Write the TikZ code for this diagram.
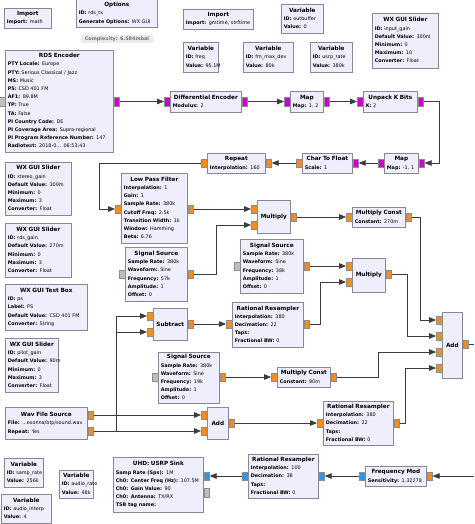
\documentclass[tikz,border=0pt]{standalone}
\usepackage{fontspec}
\setmainfont{DejaVu Sans}
\usetikzlibrary{arrows.meta}
\definecolor{grcfill}{RGB}{238,238,252}
\definecolor{grcedge}{RGB}{135,135,150}
\definecolor{portfloat}{RGB}{245,140,30}
\definecolor{portbyte}{RGB}{204,0,204}
\definecolor{portcplx}{RGB}{50,150,230}
\definecolor{portmsg}{RGB}{190,190,190}
\definecolor{wirecol}{RGB}{60,60,60}
\newcommand{\ttlfont}{\fontsize{5.7}{8.2}\selectfont\bfseries}
\newcommand{\prmfont}{\fontsize{4.9}{8.2}\selectfont}
\newcommand{\ttl}[1]{\hskip0pt plus1filll\mbox{\ttlfont\rule{0pt}{4.4pt}#1}\hskip0pt plus1filll\null}
\newcommand{\kv}[2]{\mbox{\rule[-1.3pt]{0pt}{1pt}\textbf{#1:} #2}}
\tikzset{
  grcblock/.style 2 args={rectangle, draw=grcedge, fill=grcfill, line width=0.7pt,
                          anchor=north west, minimum width=#1pt, minimum height=#2pt,
                          text width=#1pt-5pt, inner xsep=2.5pt, inner ysep=0pt,
                          align=left, font=\prmfont},
  gport/.style={rectangle, draw=black!45, line width=0.4pt, minimum width=5.5pt,
                minimum height=8.5pt, inner sep=0pt},
  pf/.style={gport, fill=portfloat},
  pb/.style={gport, fill=portbyte},
  pc/.style={gport, fill=portcplx},
  pm/.style={gport, fill=portmsg},
  lside/.style={anchor=east},
  rside/.style={anchor=west},
  wire/.style ={draw=wirecol, line width=0.7pt, -{Triangle[length=7pt,width=5.5pt]}},
  wirefree/.style={draw=wirecol, line width=0.7pt},
  cplxlbl/.style={fill=black!8, text=black!55, font=\prmfont\bfseries,
                  inner xsep=4pt, inner ysep=2pt},
}
\begin{document}
\begin{tikzpicture}[x=1pt, y=-1pt]
  \useasboundingbox (0,0) rectangle (474,524);
  \node[grcblock={47}{20}] (imp1) at (4,8) {\ttl{Import}\\\kv{Import}{math}};
  \node[grcblock={81}{28}] (opts) at (76,-1) {\ttl{Options}\\\kv{ID}{rds\_tx}\\\kv{Generate Options}{WX GUI}};
  \node[cplxlbl] (cplx) at (117,39) {Complexity: 6.584mbal};
  \node[grcblock={70}{20}] (imp2) at (183,9) {\ttl{Import}\\\kv{Import}{gmtime, strftime}};
  \node[grcblock={42}{29}] (vbuf) at (281,4) {\ttl{Variable}\\\kv{ID}{outbuffer}\\\kv{Value}{0}};
  \node[grcblock={66}{55}] (sgain) at (372,13) {\ttl{WX GUI Slider}\\\kv{ID}{input\_gain}\\\kv{Default Value}{300m}\\\kv{Minimum}{0}\\\kv{Maximum}{10}\\\kv{Converter}{Float}};
  \node[grcblock={35}{30}] (vfreq) at (183,42) {\ttl{Variable}\\\kv{ID}{freq}\\\kv{Value}{95.1M}};
  \node[grcblock={50}{30}] (vdev) at (243,42) {\ttl{Variable}\\\kv{ID}{fm\_max\_dev}\\\kv{Value}{80k}};
  \node[grcblock={42}{30}] (vusrp) at (310,42) {\ttl{Variable}\\\kv{ID}{usrp\_rate}\\\kv{Value}{380k}};
  \node[grcblock={108}{102}] (rds) at (5,50) {\ttl{RDS Encoder}\\\kv{PTY Locale}{Europe}\\\kv{PTY}{Serious Classical / Jazz}\\\kv{MS}{Music}\\\kv{PS}{CSD 401 FM}\\\kv{AF1}{89.8M}\\\kv{TP}{True}\\\kv{TA}{False}\\\kv{PI Country Code}{DE}\\\kv{PI Coverage Area}{Supra-regional}\\\kv{PI Program Reference Number}{147}\\\kv{Radiotext}{2018-0... 06:53:43}};
  \node[grcblock={71}{21}] (diff) at (170,91) {\ttl{Differential Encoder}\\\kv{Modulus}{2}};
  \node[grcblock={33}{21}] (map1) at (290,91) {\ttl{Map}\\\kv{Map}{1, 2}};
  \node[grcblock={54}{21}] (unpk) at (363,91) {\ttl{Unpack K Bits}\\\kv{K}{2}};
  \node[grcblock={34}{20}] (map2) at (384,153) {\ttl{Map}\\\kv{Map}{-1, 1}};
  \node[grcblock={50}{20}] (c2f) at (302,153) {\ttl{Char To Float}\\\kv{Scale}{1}};
  \node[grcblock={58}{20}] (rpt) at (207,153) {\ttl{Repeat}\\\kv{Interpolation}{160}};
  \node[grcblock={66}{53}] (sstereo) at (5,162) {\ttl{WX GUI Slider}\\\kv{ID}{stereo\_gain}\\\kv{Default Value}{300m}\\\kv{Minimum}{0}\\\kv{Maximum}{3}\\\kv{Converter}{Float}};
  \node[grcblock={66}{70}] (lpf) at (121,173) {\ttl{Low Pass Filter}\\\kv{Interpolation}{1}\\\kv{Gain}{1}\\\kv{Sample Rate}{380k}\\\kv{Cutoff Freq}{2.5k}\\\kv{Transition Width}{1k}\\\kv{Window}{Hamming}\\\kv{Beta}{6.76}};
  \node[grcblock={33}{33}] (mul1) at (257,200) {\ttl{Multiply}};
  \node[grcblock={53}{20}] (mc1) at (352,207) {\ttl{Multiply Const}\\\kv{Constant}{270m}};
  \node[grcblock={66}{54}] (srds) at (5,223) {\ttl{WX GUI Slider}\\\kv{ID}{rds\_gain}\\\kv{Default Value}{270m}\\\kv{Minimum}{0}\\\kv{Maximum}{3}\\\kv{Converter}{Float}};
  \node[grcblock={63}{54}] (src2) at (240,239) {\ttl{Signal Source}\\\kv{Sample Rate}{380k}\\\kv{Waveform}{Sine}\\\kv{Frequency}{38k}\\\kv{Amplitude}{1}\\\kv{Offset}{0}};
  \node[grcblock={62}{54}] (src1) at (125,247) {\ttl{Signal Source}\\\kv{Sample Rate}{380k}\\\kv{Waveform}{Sine}\\\kv{Frequency}{57k}\\\kv{Amplitude}{1}\\\kv{Offset}{0}};
  \node[grcblock={33}{34}] (mul2) at (352,258) {\ttl{Multiply}};
  \node[grcblock={82}{46}] (tbox) at (5,284) {\ttl{WX GUI Text Box}\\\kv{ID}{ps}\\\kv{Label}{PS}\\\kv{Default Value}{CSD 401 FM}\\\kv{Converter}{String}};
  \node[grcblock={71}{45}] (rr1) at (232,302) {\ttl{Rational Resampler}\\\kv{Interpolation}{380}\\\kv{Decimation}{22}\\\kv{Taps}{}\\\kv{Fractional BW}{0}};
  \node[grcblock={34}{32}] (sub) at (153,308) {\ttl{Subtract}};
  \node[grcblock={20}{66}] (add1) at (442,312) {\ttl{Add}};
  \node[grcblock={53}{54}] (spilot) at (5,338) {\ttl{WX GUI Slider}\\\kv{ID}{pilot\_gain}\\\kv{Default Value}{90m}\\\kv{Minimum}{0}\\\kv{Maximum}{3}\\\kv{Converter}{Float}};
  \node[grcblock={61}{51}] (src3) at (158,352) {\ttl{Signal Source}\\\kv{Sample Rate}{380k}\\\kv{Waveform}{Sine}\\\kv{Frequency}{19k}\\\kv{Amplitude}{1}\\\kv{Offset}{0}};
  \node[grcblock={53}{20}] (mc2) at (277,367) {\ttl{Multiply Const}\\\kv{Constant}{90m}};
  \node[grcblock={82}{32}] (wav) at (5,407) {\ttl{Wav File Source}\\\kv{File}{...esonna/btp/sound.wav}\\\kv{Repeat}{Yes}};
  \node[grcblock={21}{32}] (add2) at (207,407) {\ttl{Add}};
  \node[grcblock={70}{44}] (rr2) at (323,401) {\ttl{Rational Resampler}\\\kv{Interpolation}{380}\\\kv{Decimation}{22}\\\kv{Taps}{}\\\kv{Fractional BW}{0}};
  \node[grcblock={70}{44}] (rr3) at (248,454) {\ttl{Rational Resampler}\\\kv{Interpolation}{100}\\\kv{Decimation}{38}\\\kv{Taps}{}\\\kv{Fractional BW}{0}};
  \node[grcblock={61}{20}] (fmod) at (365,466) {\ttl{Frequency Mod}\\\kv{Sensitivity}{1.32278}};
  \node[grcblock={90}{55}] (uhd) at (113,457) {\ttl{UHD: USRP Sink}\\\kv{Samp Rate (Sps)}{1M}\\\kv{Ch0: Center Freq (Hz)}{107.5M}\\\kv{Ch0: Gain Value}{90}\\\kv{Ch0: Antenna}{TX/RX}\\\kv{TSB tag name}{}};
  \node[grcblock={39}{29}] (vsamp) at (4,458) {\ttl{Variable}\\\kv{ID}{samp\_rate}\\\kv{Value}{256k}};
  \node[grcblock={34}{28}] (vaud) at (59,470) {\ttl{Variable}\\\kv{ID}{audio\_rate}\\\kv{Value}{48k}};
  \node[grcblock={50}{29}] (vinterp) at (1,494) {\ttl{Variable}\\\kv{ID}{audio\_interp}\\\kv{Value}{4}};

  \node[pm, lside] (rdsi)  at (rds.west  |- 0,101.5) {};
  \node[pb, rside] (rdso)  at (rds.east  |- 0,101.5) {};
  \node[pb, lside] (diffi) at (diff.west |- 0,101.5) {};
  \node[pb, rside] (diffo) at (diff.east |- 0,101.5) {};
  \node[pb, lside] (map1i) at (map1.west |- 0,101.5) {};
  \node[pb, rside] (map1o) at (map1.east |- 0,101.5) {};
  \node[pb, lside] (unpki) at (unpk.west |- 0,101.5) {};
  \node[pb, rside] (unpko) at (unpk.east |- 0,101.5) {};
  \node[pb, rside] (map2i) at (map2.east |- 0,163) {};
  \node[pb, lside] (map2o) at (map2.west |- 0,163) {};
  \node[pb, rside] (c2fi)  at (c2f.east  |- 0,163) {};
  \node[pf, lside] (c2fo)  at (c2f.west  |- 0,163) {};
  \node[pf, rside] (rpti)  at (rpt.east  |- 0,163) {};
  \node[pf, lside] (rpto)  at (rpt.west  |- 0,163) {};
  \node[pf, lside] (lpfi)  at (lpf.west  |- 0,209) {};
  \node[pf, rside] (lpfo)  at (lpf.east  |- 0,209) {};
  \node[pf, lside] (mul1a) at (mul1.west |- 0,209) {};
  \node[pf, lside] (mul1b) at (mul1.west |- 0,225) {};
  \node[pf, rside] (mul1o) at (mul1.east |- 0,217) {};
  \node[pf, lside] (mc1i)  at (mc1.west  |- 0,217) {};
  \node[pf, rside] (mc1o)  at (mc1.east  |- 0,217) {};
  \node[pm, lside] (src1m) at (src1.west |- 0,274) {};
  \node[pf, rside] (src1o) at (src1.east |- 0,274) {};
  \node[pm, lside] (src2m) at (src2.west |- 0,266) {};
  \node[pf, rside] (src2o) at (src2.east |- 0,266) {};
  \node[pf, lside] (mul2a) at (mul2.west |- 0,266) {};
  \node[pf, lside] (mul2b) at (mul2.west |- 0,282) {};
  \node[pf, rside] (mul2o) at (mul2.east |- 0,274) {};
  \node[pf, lside] (suba)  at (sub.west  |- 0,316) {};
  \node[pf, lside] (subb)  at (sub.west  |- 0,332) {};
  \node[pf, rside] (subo)  at (sub.east  |- 0,324) {};
  \node[pf, lside] (rr1i)  at (rr1.west  |- 0,324) {};
  \node[pf, rside] (rr1o)  at (rr1.east  |- 0,324) {};
  \node[pm, lside] (src3m) at (src3.west |- 0,377) {};
  \node[pf, rside] (src3o) at (src3.east |- 0,377) {};
  \node[pf, lside] (mc2i)  at (mc2.west  |- 0,377) {};
  \node[pf, rside] (mc2o)  at (mc2.east  |- 0,377) {};
  \node[pf, lside] (adda)  at (add1.west |- 0,320) {};
  \node[pf, lside] (addb)  at (add1.west |- 0,336) {};
  \node[pf, lside] (addc)  at (add1.west |- 0,352) {};
  \node[pf, lside] (addd)  at (add1.west |- 0,368) {};
  \node[pf, rside] (addo)  at (add1.east |- 0,344) {};
  \node[pf, rside] (wavl)  at (wav.east  |- 0,415) {};
  \node[pf, rside] (wavr)  at (wav.east  |- 0,431) {};
  \node[pf, lside] (add2a) at (add2.west |- 0,415) {};
  \node[pf, lside] (add2b) at (add2.west |- 0,431) {};
  \node[pf, rside] (add2o) at (add2.east |- 0,423) {};
  \node[pf, lside] (rr2i)  at (rr2.west  |- 0,423) {};
  \node[pf, rside] (rr2o)  at (rr2.east  |- 0,423) {};
  \node[pf, rside] (fmodi) at (fmod.east |- 0,476) {};
  \node[pc, lside] (fmodo) at (fmod.west |- 0,476) {};
  \node[pc, rside] (rr3i)  at (rr3.east  |- 0,476) {};
  \node[pc, lside] (rr3o)  at (rr3.west  |- 0,476) {};
  \node[pc, rside] (uhdi)  at (uhd.east  |- 0,476) {};
  \node[pm, rside] (uhdm)  at (uhd.east  |- 0,492.5) {};
  \coordinate (tofm) at (474,344);
  \coordinate (fromfm) at (474,476);

  \draw[wire] (rdso) -- (diffi);
  \draw[wire] (diffo) -- (map1i);
  \draw[wire] (map1o) -- (unpki);
  \draw[wire] (unpko.east) -- ++(16,0) |- (map2i.east);
  \draw[wire] (map2o) -- (c2fi);
  \draw[wire] (c2fo) -- (rpti);
  \draw[wire] (rpto.west) -- ++(-101.5,0) |- (lpfi.west);
  \draw[wire] (lpfo) -- (mul1a);
  \draw[wire] (src1o.east) -- ++(22.5,0) |- (mul1b.west);
  \draw[wire] (mul1o) -- (mc1i);
  \draw[wire] (mc1o.east) -- ++(8.5,0) |- (adda.west);
  \draw[wire] (src2o) -- (mul2a);
  \draw[wire] (mul2o.east) -- ++(15.5,0) |- (addb.west);
  \draw[wire] (subo) -- (rr1i);
  \draw[wire] (rr1o.east) -- ++(10.5,0) |- (mul2b.west);
  \draw[wire] (src3o) -- (mc2i);
  \draw[wire] (mc2o.east) -- ++(41.5,0) |- (addc.west);
  \draw[wire] (wavl) -- (add2a);
  \draw[wire] (wavr) -- (add2b);
  \draw[wire] (wavl.east) -- ++(22.5,0) |- (suba.west);
  \draw[wire] (wavr.east) -- ++(22.5,0) |- (subb.west);
  \draw[wire] (add2o) -- (rr2i);
  \draw[wire] (rr2o.east) -- ++(5.5,0) |- (addd.west);
  \draw[wirefree] (addo.east) -- (tofm);
  \draw[wire] (fromfm) -- (fmodi.east);
  \draw[wire] (fmodo) -- (rr3i);
  \draw[wire] (rr3o) -- (uhdi);
\end{tikzpicture}
\end{document}
